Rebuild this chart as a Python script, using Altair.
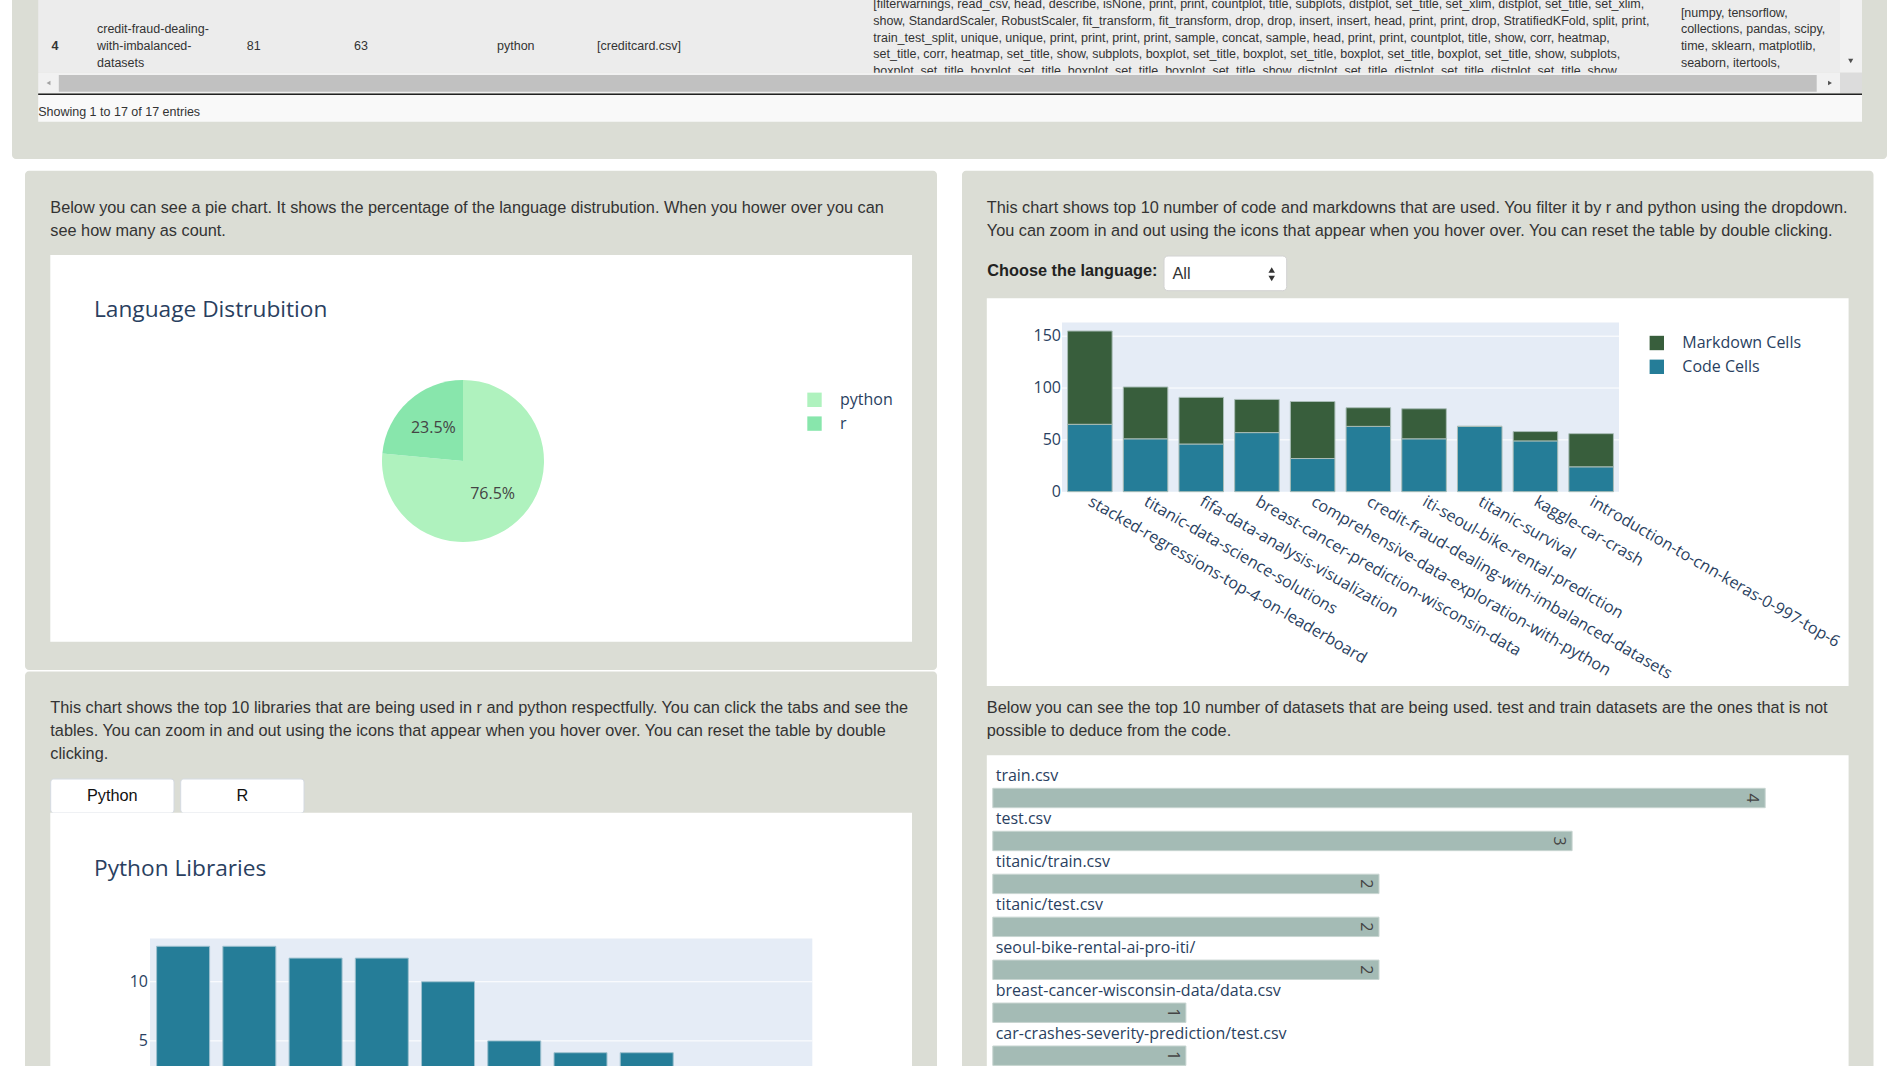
import altair as alt
import pandas as pd

# ---------------- data ----------------
notebooks = [
    "stacked-regressions-top-4-on-leaderboard",
    "titanic-data-science-solutions",
    "fifa-data-analysis-visualization",
    "breast-cancer-prediction-wisconsin-data",
    "comprehensive-data-exploration-with-python",
    "credit-fraud-dealing-with-imbalanced-datasets",
    "iti-seoul-bike-rental-prediction",
    "titanic-survival",
    "kaggle-car-crash",
    "introduction-to-cnn-keras-0-997-top-6",
]
code_cells = [65, 51, 46, 57, 32, 63, 51, 63, 49, 24]
markdown_cells = [90, 50, 45, 32, 55, 18, 29, 0, 9, 32]
cell_types = ["Markdown Cells", "Code Cells"]
cell_colors = ["#385e3c", "#257d98"]
cell_ticks = [0, 50, 100, 150]

languages = ["python", "r"]
language_counts = [13, 4]
language_colors = ["#aff2be", "#88e6ac"]

py_libraries = ["pandas", "numpy", "matplotlib", "seaborn", "sklearn",
                "warnings", "scipy", "plotly", "os", "xgboost"]
py_library_counts = [13, 13, 12, 12, 10, 5, 4, 4, 2, 2]
py_ticks = [5, 10]

datasets = [
    "train.csv",
    "test.csv",
    "titanic/train.csv",
    "titanic/test.csv",
    "seoul-bike-rental-ai-pro-iti/",
    "breast-cancer-wisconsin-data/data.csv",
    "car-crashes-severity-prediction/test.csv",
]
dataset_counts = [4, 3, 2, 2, 2, 1, 1]

# one visible row of the notebook table
row_index = "4"
row_name_lines = ["credit-fraud-dealing-", "with-imbalanced-", "datasets"]
row_cells = "81"
row_code = "63"
row_language = "python"
row_datasets = "[creditcard.csv]"
row_method_lines = [
    "[filterwarnings, read_csv, head, describe, isNone, print, print, countplot, title, subplots, distplot, set_title, set_xlim, distplot, set_title, set_xlim,",
    "show, StandardScaler, RobustScaler, fit_transform, fit_transform, drop, drop, insert, insert, head, print, print, drop, StratifiedKFold, split, print,",
    "train_test_split, unique, unique, print, print, print, print, sample, concat, sample, head, print, print, countplot, title, show, corr, heatmap,",
    "set_title, corr, heatmap, set_title, show, subplots, boxplot, set_title, boxplot, set_title, boxplot, set_title, boxplot, set_title, show, subplots,",
    "boxplot, set_title, boxplot, set_title, boxplot, set_title, boxplot, set_title, show, distplot, set_title, distplot, set_title, distplot, set_title, show,",
]
row_library_lines = [
    "[numpy, tensorflow,",
    "collections, pandas, scipy,",
    "time, sklearn, matplotlib,",
    "seaborn, itertools,",
]

# ---------------- styling ----------------
PAGE_FONT = "Liberation Sans"
PAGE_SIZE = 16.3
TABLE_SIZE = 12.5
PLOT_FONT = "Open Sans"
PANEL = "#dbddd5"
PLOT_BG = "#e5ecf6"
PLOT_TEXT = "#2a3f5f"
TEXT = "#333333"

one = pd.DataFrame({"k": [0]})
layers = []


def box(x0, y0, x1, y1, fill, radius=0, stroke=None, sw=1):
    kw = dict(fill=fill, cornerRadius=radius)
    if stroke:
        kw.update(stroke=stroke, strokeWidth=sw)
    layers.append(
        alt.Chart(one).mark_rect(**kw).encode(
            x=alt.value(x0), x2=alt.value(x1), y=alt.value(y0), y2=alt.value(y1)
        )
    )


def text(s, x, y, size=PAGE_SIZE, font=PAGE_FONT, color=TEXT, weight="normal", align="left"):
    layers.append(
        alt.Chart(one).mark_text(
            text=s, font=font, fontSize=size, color=color, fontWeight=weight,
            align=align, baseline="middle",
        ).encode(x=alt.value(x), y=alt.value(y))
    )


def tri(x, y, shape, size, color):
    layers.append(
        alt.Chart(one).mark_point(
            shape=shape, filled=True, size=size, color=color, opacity=1, strokeWidth=0
        ).encode(x=alt.value(x), y=alt.value(y))
    )


# ---------------- page panels ----------------
box(12, -10, 1887, 159, PANEL, radius=4)
box(25, 170.7, 937, 670, PANEL, radius=4)
box(25, 671.5, 937, 1090, PANEL, radius=4)
box(962, 170.7, 1873.5, 1090, PANEL, radius=4)

# ---------------- notebook table (scrolled) ----------------
box(38.2, -1, 1840, 72.7, "#ececec")
box(1840, -1, 1862, 72.7, "#f1f1f1")
text(row_index, 51.5, 46, size=TABLE_SIZE, weight="bold")
for i, line in enumerate(row_name_lines):
    text(line, 97, 29.3 + 16.7 * i, size=TABLE_SIZE)
text(row_cells, 246.7, 46, size=TABLE_SIZE)
text(row_code, 354, 46, size=TABLE_SIZE)
text(row_language, 497, 46, size=TABLE_SIZE)
text(row_datasets, 597, 46, size=TABLE_SIZE)
for i, line in enumerate(row_method_lines):
    text(line, 873.3, 4 + 16.75 * i, size=TABLE_SIZE)
for i, line in enumerate(row_library_lines):
    text(line, 1680.9, 12.7 + 16.7 * i, size=TABLE_SIZE)
tri(1850.7, 61, "triangle-down", 26, "#505050")
# horizontal scrollbar
box(38.2, 72.7, 1840, 93.3, "#f1f1f1")
box(1840, 72.7, 1862, 93.3, "#dcdcdc")
box(58.8, 75, 1816.7, 91.7, "#c1c1c1")
tri(48.5, 83, "triangle-left", 20, "#a3a3a3")
tri(1830, 83, "triangle-right", 20, "#505050")
box(38.2, 93.6, 1862, 95, "#222222")
box(38.2, 95, 1862, 121.7, "#f9f9f9")
text("Showing 1 to 17 of 17 entries", 38.2, 112, size=TABLE_SIZE)

# ---------------- texts of the lower panels ----------------
for i, line in enumerate([
    "Below you can see a pie chart. It shows the percentage of the language distrubution. When you hower over you can",
    "see how many as count.",
]):
    text(line, 50.3, 207.7 + 23 * i)
for i, line in enumerate([
    "This chart shows top 10 number of code and markdowns that are used. You filter it by r and python using the dropdown.",
    "You can zoom in and out using the icons that appear when you hover over. You can reset the table by double clicking.",
]):
    text(line, 986.8, 207.7 + 23 * i)
for i, line in enumerate([
    "This chart shows the top 10 libraries that are being used in r and python respectfully. You can click the tabs and see the",
    "tables. You can zoom in and out using the icons that appear when you hover over. You can reset the table by double",
    "clicking.",
]):
    text(line, 50.3, 707.7 + 23 * i)
for i, line in enumerate([
    "Below you can see the top 10 number of datasets that are being used. test and train datasets are the ones that is not",
    "possible to deduce from the code.",
]):
    text(line, 986.8, 707.7 + 23 * i)

# dropdown
text("Choose the language:", 987.3, 270.7, weight="bold", color="#222222")
box(1164, 256, 1286.7, 290.7, "white", radius=4, stroke="#d2d2d2")
text("All", 1172.5, 273.5)
tri(1271.7, 270, "triangle-up", 42, "#333333")
tri(1271.7, 278.5, "triangle-down", 42, "#333333")

# tabs
box(50.7, 779, 174, 813, "white", radius=3, stroke="#d4dae2")
box(180.7, 779, 304, 813, "white", radius=3, stroke="#d4dae2")
text("Python", 112.3, 796, align="center", color="#111111")
text("R", 242.3, 796, align="center", color="#111111")

# white chart cards
box(50.3, 255, 912, 641.7, "white")
box(50.3, 812.7, 912, 1090, "white")
box(986.8, 298.3, 1848.6, 686, "white")
box(986.8, 755.3, 1848.6, 1090, "white")

# ---------------- pie: language distribution ----------------
text("Language Distrubition", 94, 310, size=22.7, font=PLOT_FONT, color=PLOT_TEXT)
lang_df = pd.DataFrame({"language": languages, "count": language_counts})
pie_center = dict(x=alt.value(463), y=alt.value(461))
layers.append(
    alt.Chart(lang_df).mark_arc(outerRadius=81).encode(
        theta=alt.Theta("count:Q", stack=True),
        color=alt.Color(
            "language:N",
            scale=alt.Scale(domain=languages, range=language_colors),
            legend=alt.Legend(
                orient="none", legendX=806.5, legendY=391.8, title=None,
                symbolType="square", symbolSize=207, symbolStrokeWidth=0,
                labelFont=PLOT_FONT, labelFontSize=16, labelColor=PLOT_TEXT,
                labelOffset=17.5, rowPadding=7.8, padding=0,
            ),
        ),
        order=alt.Order("language:N", sort="ascending"),
        **pie_center,
    )
)
layers.append(
    alt.Chart(lang_df)
    .transform_joinaggregate(total="sum(count)")
    .transform_calculate(share='format(datum.count / datum.total, ".1%")')
    .mark_text(radius=44, font=PLOT_FONT, fontSize=16, color="#444444")
    .encode(
        theta=alt.Theta("count:Q", stack=True),
        order=alt.Order("language:N", sort="ascending"),
        text="share:N",
        **pie_center,
    )
)

# ---------------- stacked bars: code and markdown cells ----------------
cells_df = pd.DataFrame({
    "notebook": notebooks * 2,
    "cell_type": ["Code Cells"] * len(notebooks) + ["Markdown Cells"] * len(notebooks),
    "count": code_cells + markdown_cells,
})
cells_x = alt.Scale(type="band", domain=notebooks, range=[1062, 1619],
                    paddingInner=0.2, paddingOuter=0.1)
cells_y = alt.Scale(domain=[0, 163.2], range=[491.7, 322.5], nice=False, zero=False)
box(1062, 322.5, 1619, 491.7, PLOT_BG)
tick_df = pd.DataFrame({"v": cell_ticks})
layers.append(
    alt.Chart(tick_df).transform_filter("datum.v > 0").mark_rule(color="white", strokeWidth=1).encode(
        y=alt.Y("v:Q", scale=cells_y, axis=None), x=alt.value(1062), x2=alt.value(1619)
    )
)
layers.append(
    alt.Chart(tick_df).mark_text(align="right", baseline="middle", font=PLOT_FONT,
                                 fontSize=16, color=PLOT_TEXT).encode(
        y=alt.Y("v:Q", scale=cells_y, axis=None), x=alt.value(1061), text="v:Q"
    )
)
layers.append(
    alt.Chart(cells_df).mark_bar(stroke="#a9bdb7", strokeWidth=1).encode(
        x=alt.X("notebook:N", scale=cells_x, axis=None),
        y=alt.Y("count:Q", stack="zero", scale=cells_y, axis=None),
        color=alt.Color(
            "cell_type:N",
            scale=alt.Scale(domain=cell_types, range=cell_colors),
            legend=alt.Legend(
                orient="none", legendX=1648.8, legendY=335, title=None,
                symbolType="square", symbolSize=207, symbolStrokeWidth=0,
                labelFont=PLOT_FONT, labelFontSize=16, labelColor=PLOT_TEXT,
                labelOffset=17.5, rowPadding=7.8, padding=0,
            ),
        ),
        order=alt.Order("cell_type:N", sort="ascending"),
    )
)
layers.append(
    alt.Chart(pd.DataFrame({"notebook": notebooks})).mark_text(
        angle=30, align="left", baseline="middle", font=PLOT_FONT, fontSize=16.2,
        color=PLOT_TEXT, xOffset=0,
    ).encode(
        x=alt.X("notebook:N", scale=cells_x, axis=None),
        y=alt.value(500.5),
        text="notebook:N",
    )
)

# ---------------- python libraries ----------------
text("Python Libraries", 94, 869, size=22.7, font=PLOT_FONT, color=PLOT_TEXT)
libs_df = pd.DataFrame({"library": py_libraries, "count": py_library_counts})
libs_x = alt.Scale(type="band", domain=py_libraries, range=[150, 812.3],
                   paddingInner=0.2, paddingOuter=0.1)
libs_y = alt.Scale(domain=[0, 13.65], range=[1100, 938.6], nice=False, zero=False)
box(150, 938.6, 812.3, 1100, PLOT_BG)
py_tick_df = pd.DataFrame({"v": py_ticks})
layers.append(
    alt.Chart(py_tick_df).mark_rule(color="white", strokeWidth=1).encode(
        y=alt.Y("v:Q", scale=libs_y, axis=None), x=alt.value(150), x2=alt.value(812.3)
    )
)
layers.append(
    alt.Chart(py_tick_df).mark_text(align="right", baseline="middle", font=PLOT_FONT,
                                    fontSize=16, color=PLOT_TEXT).encode(
        y=alt.Y("v:Q", scale=libs_y, axis=None), x=alt.value(148), text="v:Q"
    )
)
layers.append(
    alt.Chart(libs_df).mark_bar(fill="#257d98", stroke="#9ec1cf", strokeWidth=1).encode(
        x=alt.X("library:N", scale=libs_x, axis=None),
        y=alt.Y("count:Q", scale=libs_y, axis=None),
    )
)

# ---------------- datasets ----------------
ds_df = pd.DataFrame({"dataset": datasets, "count": dataset_counts})
ds_x = alt.Scale(domain=[0, 4], range=[992.8, 1765.2], nice=False, zero=True)
ds_y = alt.Scale(type="band", domain=datasets, range=[788.3, 1065.4],
                 paddingInner=0.548, paddingOuter=0)
layers.append(
    alt.Chart(ds_df).mark_bar(fill="#a4bbb5", stroke="#c8d5d1", strokeWidth=1).encode(
        x=alt.X("count:Q", scale=ds_x, axis=None),
        y=alt.Y("dataset:N", scale=ds_y, axis=None),
    )
)
layers.append(
    alt.Chart(ds_df).mark_text(align="left", baseline="middle", dy=-22, font=PLOT_FONT,
                               fontSize=16, color=PLOT_TEXT).encode(
        x=alt.value(995.7),
        y=alt.Y("dataset:N", scale=ds_y, axis=None),
        text="dataset:N",
    )
)
layers.append(
    alt.Chart(ds_df).mark_text(angle=90, align="center", baseline="middle", xOffset=-13,
                               font=PLOT_FONT, fontSize=16, color="#444444").encode(
        x=alt.X("count:Q", scale=ds_x, axis=None),
        y=alt.Y("dataset:N", scale=ds_y, axis=None),
        text="count:Q",
    )
)

chart = (
    alt.layer(*layers)
    .properties(
        width=1894, height=1066, padding=0,
        autosize=alt.AutoSizeParams(type="none"), background="white",
    )
    .resolve_scale(x="independent", y="independent", color="independent", theta="independent")
    .configure_view(stroke=None)
)

chart.save("out.html", embed_options={"renderer": "svg", "actions": False})
